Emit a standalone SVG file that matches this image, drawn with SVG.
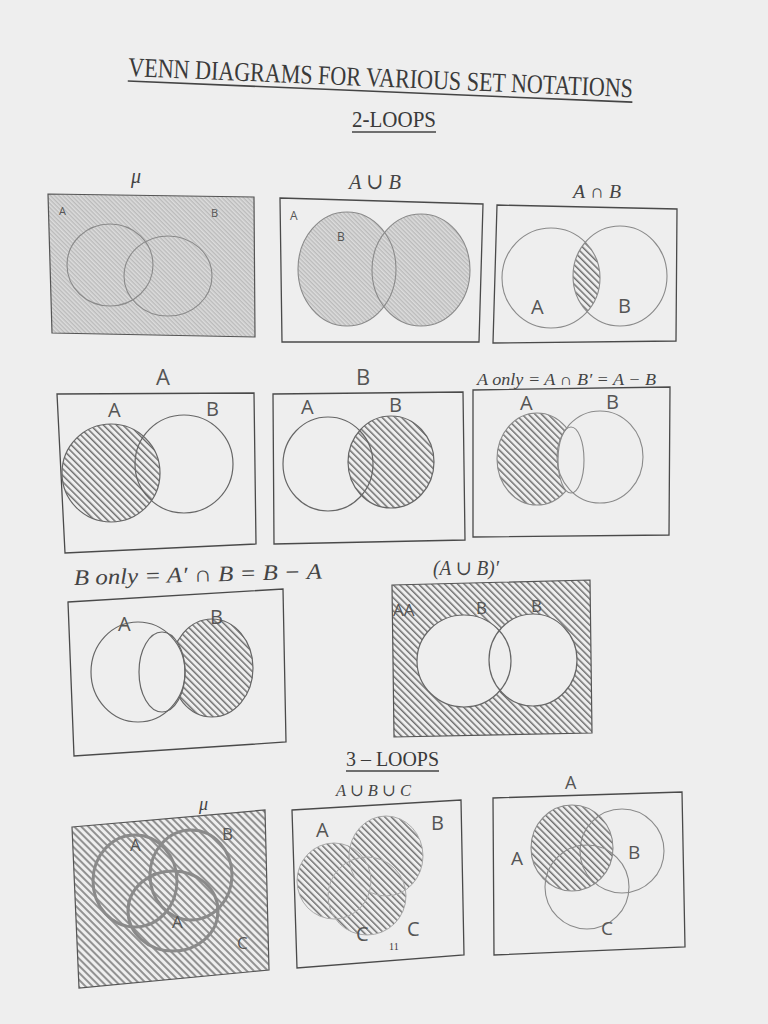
<svg xmlns="http://www.w3.org/2000/svg" width="768" height="1024" viewBox="0 0 768 1024">
<defs>
<style>
.box{fill:none;stroke:#4a4a4a;stroke-width:1.3}
.cir{fill:none;stroke:#666;stroke-width:1.2}
.lt{fill:none;stroke:#8a8a8a;stroke-width:1.1}
.sans{font-family:"Open Sans","Liberation Sans",sans-serif;fill:#555}
.ital{font-family:"Liberation Serif","DejaVu Serif",serif;font-style:italic;fill:#444}
.head{font-family:"Liberation Serif","DejaVu Serif",serif;fill:#3a3a3a}
</style>
<pattern id="fine" patternUnits="userSpaceOnUse" width="3" height="3" patternTransform="rotate(45)">
<rect width="3" height="3" fill="#dcdcdc"/>
<line x1="0" y1="0.8" x2="3" y2="0.8" stroke="#a8a8a8" stroke-width="0.9"/>
</pattern>
<pattern id="hatch" patternUnits="userSpaceOnUse" width="4.6" height="4.6" patternTransform="rotate(45)">
<line x1="0" y1="2" x2="4.6" y2="2" stroke="#5e5e5e" stroke-width="1.3"/>
</pattern>
<pattern id="hatch9" patternUnits="userSpaceOnUse" width="5" height="5" patternTransform="rotate(45)">
<line x1="0" y1="2" x2="5" y2="2" stroke="#7a7a7a" stroke-width="1.6"/>
</pattern>
<clipPath id="clipA3"><ellipse cx="551" cy="278" rx="49" ry="50"/></clipPath>
<clipPath id="clipU3">
<ellipse cx="334" cy="881" rx="37" ry="38"/>
<ellipse cx="386" cy="856" rx="37" ry="40"/>
<ellipse cx="367" cy="896" rx="39" ry="39"/>
</clipPath>
<clipPath id="clipU2">
<ellipse cx="347" cy="269" rx="49" ry="57"/>
<ellipse cx="421" cy="270" rx="49" ry="56"/>
</clipPath>
</defs>
<rect width="768" height="1024" fill="#eeeeee"/>

<g id="title">
<g transform="rotate(2.4 128 76)">
<text class="head" x="128" y="76" font-size="27" textLength="505" lengthAdjust="spacingAndGlyphs">VENN DIAGRAMS FOR VARIOUS SET NOTATIONS</text>
<line x1="128" y1="81" x2="633" y2="81" stroke="#444" stroke-width="1.6"/>
</g>
<text class="head" x="352" y="127" font-size="23" textLength="84" lengthAdjust="spacingAndGlyphs">2-LOOPS</text>
<line x1="352" y1="132" x2="436" y2="132" stroke="#444" stroke-width="1.6"/>
</g>

<g id="d-universe">
<text class="ital" x="131" y="183" font-size="20">μ</text>
<polygon points="48,194 254,197 255,337 52,333" fill="url(#fine)" stroke="#555" stroke-width="1.2"/>
<ellipse cx="110" cy="265" rx="43" ry="41" class="lt"/>
<ellipse cx="168" cy="276" rx="44" ry="40" class="lt"/>
<text class="sans" x="59" y="215" font-size="11" fill="#777">A</text>
<text class="sans" x="211" y="217" font-size="11" fill="#777">B</text>
</g>

<g id="d-union">
<text class="ital" x="349" y="189" font-size="22" textLength="52" lengthAdjust="spacingAndGlyphs">A ∪ B</text>
<polygon points="280,198 483,204 479,342 282,342" class="box"/>
<rect x="290" y="205" width="190" height="130" fill="url(#fine)" clip-path="url(#clipU2)"/>
<ellipse cx="347" cy="269" rx="49" ry="57" class="lt"/>
<ellipse cx="421" cy="270" rx="49" ry="56" class="lt"/>
<text class="sans" x="290" y="220" font-size="12" fill="#777">A</text>
<text class="sans" x="337" y="241" font-size="12" fill="#777">B</text>
</g>

<g id="d-intersection">
<text class="ital" x="573" y="198" font-size="19" textLength="48" lengthAdjust="spacingAndGlyphs">A ∩ B</text>
<polygon points="497,205 677,209 676,341 493,343" class="box"/>
<ellipse cx="620" cy="276" rx="47" ry="50" fill="url(#hatch)" clip-path="url(#clipA3)"/>
<ellipse cx="551" cy="278" rx="49" ry="50" class="lt"/>
<ellipse cx="620" cy="276" rx="47" ry="50" class="lt"/>
<text class="sans" x="531" y="314" font-size="20" fill="#666">A</text>
<text class="sans" x="618" y="313" font-size="20" fill="#666">B</text>
</g>

<g id="d-A">
<text class="sans" x="156" y="385" font-size="22">A</text>
<polygon points="57,394 254,393 256,544 65,553" class="box"/>
<ellipse cx="111" cy="473" rx="49" ry="49" fill="url(#hatch)"/>
<ellipse cx="111" cy="473" rx="49" ry="49" class="cir"/>
<ellipse cx="184" cy="464" rx="49" ry="49" class="cir"/>
<text class="sans" x="108" y="417" font-size="20">A</text>
<text class="sans" x="206" y="416" font-size="20">B</text>
</g>

<g id="d-B">
<text class="sans" x="356" y="385" font-size="22">B</text>
<polygon points="273,394 463,392 465,540 274,544" class="box"/>
<ellipse cx="391" cy="462" rx="43" ry="46" fill="url(#hatch)"/>
<ellipse cx="391" cy="462" rx="43" ry="46" class="cir"/>
<ellipse cx="328" cy="464" rx="45" ry="47" class="cir"/>
<text class="sans" x="301" y="414" font-size="20">A</text>
<text class="sans" x="389" y="412" font-size="20">B</text>
</g>

<g id="d-Aonly">
<text class="ital" x="477" y="385" font-size="16" textLength="179" lengthAdjust="spacingAndGlyphs">A only = A ∩ B′ = A − B</text>
<polygon points="473,390 670,387 669,535 473,537" class="box"/>
<ellipse cx="537" cy="459" rx="40" ry="46" fill="url(#hatch)"/>
<ellipse cx="537" cy="459" rx="40" ry="46" class="lt"/>
<ellipse cx="571" cy="460" rx="13" ry="33" fill="#eeeeee" stroke="#8a8a8a" stroke-width="1.1"/>
<ellipse cx="600" cy="457" rx="43" ry="46" class="lt"/>
<text class="sans" x="520" y="410" font-size="20">A</text>
<text class="sans" x="606" y="409" font-size="20">B</text>
</g>

<g id="d-Bonly">
<text class="ital" x="74" y="585" font-size="22" textLength="248" lengthAdjust="spacingAndGlyphs" transform="rotate(-1.5 74 585)">B only = A′ ∩ B = B − A</text>
<polygon points="68,602 283,589 286,742 74,756" class="box"/>
<ellipse cx="212" cy="668" rx="41" ry="49" fill="url(#hatch)"/>
<ellipse cx="212" cy="668" rx="41" ry="49" class="cir"/>
<ellipse cx="162" cy="672" rx="23" ry="40" fill="#eeeeee" stroke="#666" stroke-width="1.2"/>
<ellipse cx="138" cy="672" rx="47" ry="50" class="cir"/>
<text class="sans" x="118" y="631" font-size="20">A</text>
<text class="sans" x="210" y="624" font-size="20">B</text>
</g>

<g id="d-complement">
<text class="ital" x="433" y="575" font-size="20" textLength="66" lengthAdjust="spacingAndGlyphs">(A ∪ B)′</text>
<polygon points="392,585 590,580 592,733 394,737" fill="url(#hatch)" stroke="#555" stroke-width="1.2"/>
<ellipse cx="464" cy="661" rx="47" ry="46" fill="#eeeeee"/>
<ellipse cx="533" cy="660" rx="44" ry="46" fill="#eeeeee"/>
<ellipse cx="464" cy="661" rx="47" ry="46" class="cir"/>
<ellipse cx="533" cy="660" rx="44" ry="46" class="cir"/>
<text class="sans" x="393" y="616" font-size="17" fill="#777">AA</text>
<text class="sans" x="476" y="614" font-size="17" fill="#777">B</text>
<text class="sans" x="531" y="612" font-size="17" fill="#777">B</text>
</g>

<g id="heading3">
<text class="head" x="346" y="766" font-size="20" textLength="93" lengthAdjust="spacingAndGlyphs">3 – LOOPS</text>
<line x1="346" y1="771" x2="439" y2="771" stroke="#444" stroke-width="1.6"/>
</g>

<g id="d-universe3">
<text class="ital" x="199" y="810" font-size="18">μ</text>
<polygon points="72,827 265,810 269,970 79,988" fill="url(#hatch9)" stroke="#555" stroke-width="1.2"/>
<ellipse cx="135" cy="881" rx="42" ry="46" fill="none" stroke="#8a8a8a" stroke-width="3"/>
<ellipse cx="191" cy="875" rx="41" ry="45" fill="none" stroke="#8a8a8a" stroke-width="3"/>
<ellipse cx="173" cy="911" rx="45" ry="40" fill="none" stroke="#8a8a8a" stroke-width="3"/>
<text class="sans" x="130" y="851" font-size="17" fill="#888">A</text>
<text class="sans" x="222" y="840" font-size="17" fill="#888">B</text>
<text class="sans" x="172" y="928" font-size="17" fill="#888">A</text>
<text class="sans" x="237" y="949" font-size="17" fill="#888">C</text>
</g>

<g id="d-union3">
<text class="ital" x="336" y="796" font-size="17" textLength="75" lengthAdjust="spacingAndGlyphs">A ∪ B ∪ C</text>
<polygon points="292,810 461,800 464,955 297,968" class="box"/>
<rect x="295" y="812" width="160" height="130" fill="url(#hatch)" clip-path="url(#clipU3)"/>
<ellipse cx="334" cy="881" rx="37" ry="38" fill="none" stroke="#aaa" stroke-width="1"/>
<ellipse cx="386" cy="856" rx="37" ry="40" fill="none" stroke="#aaa" stroke-width="1"/>
<ellipse cx="367" cy="896" rx="39" ry="39" fill="none" stroke="#aaa" stroke-width="1"/>
<text class="sans" x="316" y="837" font-size="20">A</text>
<text class="sans" x="431" y="830" font-size="20">B</text>
<text class="sans" x="356" y="941" font-size="20" fill="#888">C</text>
<text class="sans" x="407" y="936" font-size="20">C</text>
<text class="head" x="389" y="950" font-size="10">11</text>
</g>

<g id="d-A3">
<text class="sans" x="565" y="789" font-size="18">A</text>
<polygon points="493,798 682,792 685,947 494,955" class="box"/>
<ellipse cx="572" cy="848" rx="41" ry="43" fill="url(#hatch)"/>
<ellipse cx="572" cy="848" rx="41" ry="43" class="lt"/>
<ellipse cx="622" cy="851" rx="42" ry="42" class="lt"/>
<ellipse cx="587" cy="887" rx="42" ry="42" class="lt"/>
<text class="sans" x="511" y="865" font-size="19">A</text>
<text class="sans" x="628" y="859" font-size="19">B</text>
<text class="sans" x="601" y="935" font-size="19">C</text>
</g>
</svg>
